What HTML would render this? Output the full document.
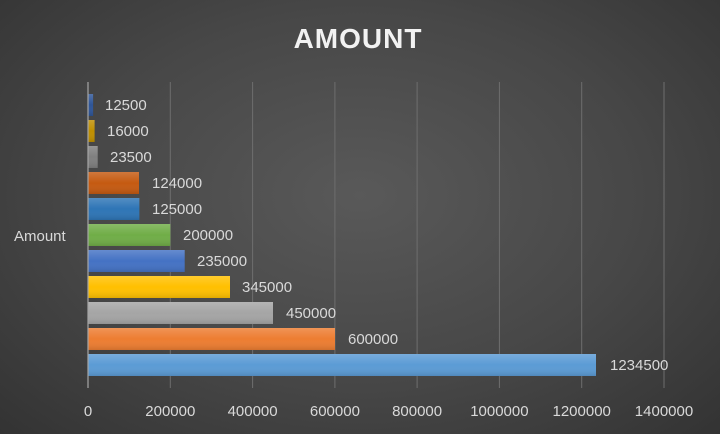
<!DOCTYPE html>
<html><head><meta charset="utf-8"><style>
html,body{margin:0;padding:0;}
body{width:720px;height:434px;overflow:hidden;background:radial-gradient(ellipse at 50% 45%,#595959 0%,#474747 55%,#333 100%);font-family:"Liberation Sans",sans-serif;}
</style></head><body>
<svg width="720" height="434" xmlns="http://www.w3.org/2000/svg" style="position:absolute;left:0;top:0">
<defs>
<linearGradient id="sh" x1="0" y1="0" x2="0" y2="1">
<stop offset="0" stop-color="#fff" stop-opacity="0.18"/>
<stop offset="0.5" stop-color="#fff" stop-opacity="0"/>
<stop offset="1" stop-color="#000" stop-opacity="0.12"/>
</linearGradient>
</defs>
<text x="358" y="48" text-anchor="middle" font-size="28" font-weight="bold" fill="#f2f2f2" letter-spacing="1">AMOUNT</text>
<g stroke="#6e6e6e" stroke-width="1">
<line x1="170.3" y1="82" x2="170.3" y2="388"/>
<line x1="252.6" y1="82" x2="252.6" y2="388"/>
<line x1="334.9" y1="82" x2="334.9" y2="388"/>
<line x1="417.1" y1="82" x2="417.1" y2="388"/>
<line x1="499.4" y1="82" x2="499.4" y2="388"/>
<line x1="581.7" y1="82" x2="581.7" y2="388"/>
<line x1="664" y1="82" x2="664" y2="388"/>
</g>
<g font-size="15" fill="#d9d9d9">
<rect x="88" y="94" width="5.1" height="22" fill="#2e5597"/><rect x="88" y="94" width="5.1" height="22" fill="url(#sh)"/><text x="105" y="110">12500</text>
<rect x="88" y="120" width="6.6" height="22" fill="#bf8f00"/><rect x="88" y="120" width="6.6" height="22" fill="url(#sh)"/><text x="107" y="136">16000</text>
<rect x="88" y="146" width="9.7" height="22" fill="#7f7f7f"/><rect x="88" y="146" width="9.7" height="22" fill="url(#sh)"/><text x="110" y="162">23500</text>
<rect x="88" y="172" width="51" height="22" fill="#c55a11"/><rect x="88" y="172" width="51" height="22" fill="url(#sh)"/><text x="152" y="188">124000</text>
<rect x="88" y="198" width="51.4" height="22" fill="#2e75b6"/><rect x="88" y="198" width="51.4" height="22" fill="url(#sh)"/><text x="152" y="214">125000</text>
<rect x="88" y="224" width="82.3" height="22" fill="#70ad47"/><rect x="88" y="224" width="82.3" height="22" fill="url(#sh)"/><text x="183" y="240">200000</text>
<rect x="88" y="250" width="96.7" height="22" fill="#4472c4"/><rect x="88" y="250" width="96.7" height="22" fill="url(#sh)"/><text x="197" y="266">235000</text>
<rect x="88" y="276" width="142" height="22" fill="#ffc000"/><rect x="88" y="276" width="142" height="22" fill="url(#sh)"/><text x="242" y="292">345000</text>
<rect x="88" y="302" width="185" height="22" fill="#a5a5a5"/><rect x="88" y="302" width="185" height="22" fill="url(#sh)"/><text x="286" y="318">450000</text>
<rect x="88" y="328" width="247" height="22" fill="#ed7d31"/><rect x="88" y="328" width="247" height="22" fill="url(#sh)"/><text x="348" y="344">600000</text>
<rect x="88" y="354" width="508" height="22" fill="#5b9bd5"/><rect x="88" y="354" width="508" height="22" fill="url(#sh)"/><text x="610" y="370">1234500</text>
</g>
<line x1="88" y1="82" x2="88" y2="388" stroke="#a6a6a6" stroke-width="1.2"/>
<text x="14" y="241" font-size="15" fill="#d9d9d9">Amount</text>
<g font-size="15" fill="#d9d9d9" text-anchor="middle">
<text x="88" y="416">0</text>
<text x="170.3" y="416">200000</text>
<text x="252.6" y="416">400000</text>
<text x="334.9" y="416">600000</text>
<text x="417.1" y="416">800000</text>
<text x="499.4" y="416">1000000</text>
<text x="581.7" y="416">1200000</text>
<text x="664" y="416">1400000</text>
</g>
</svg>
</body></html>
